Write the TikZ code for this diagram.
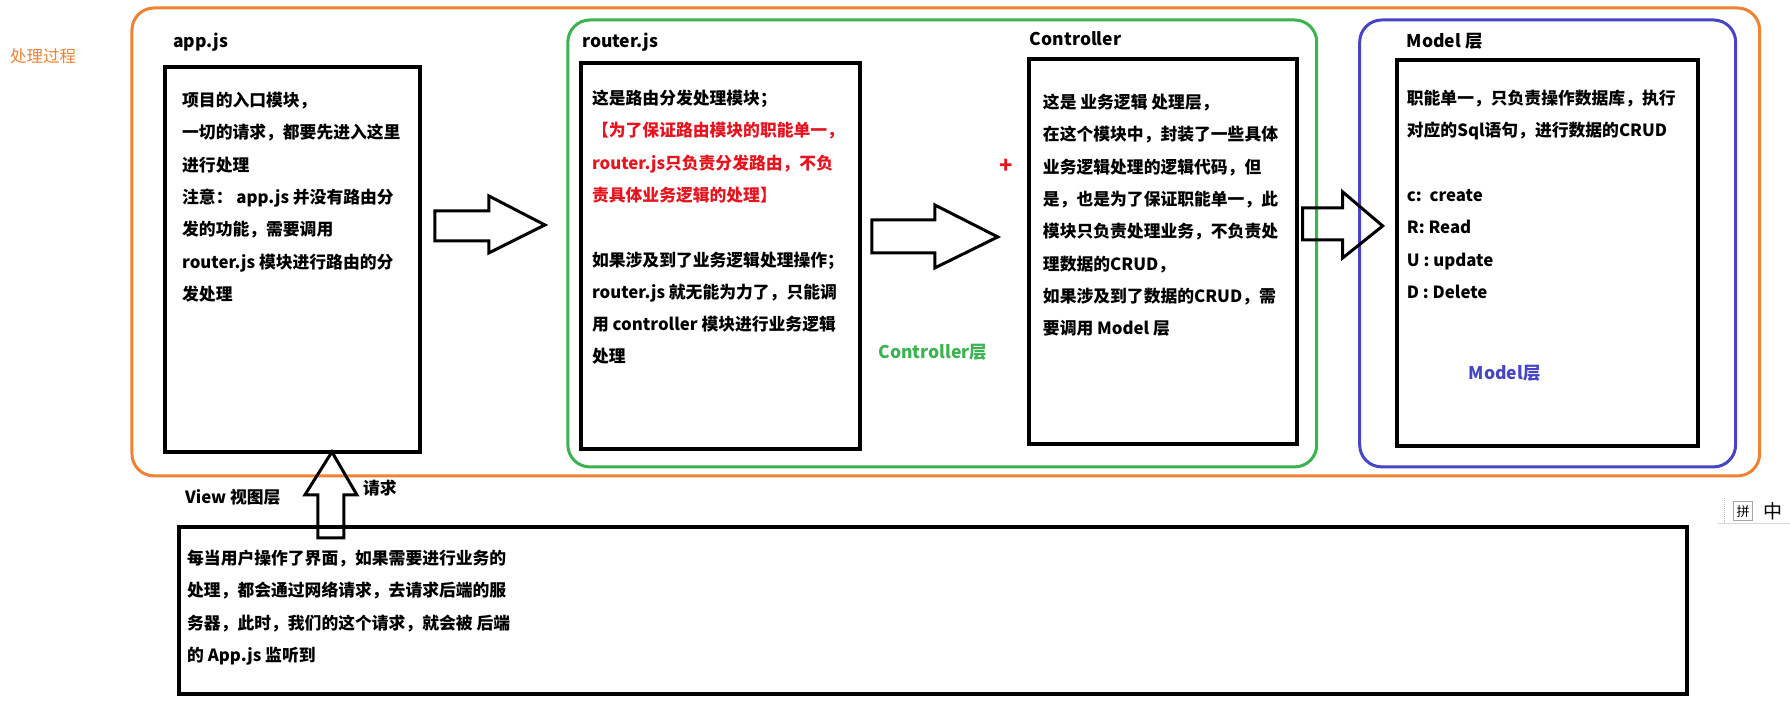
\documentclass[tikz,border=0pt]{standalone}
\usepackage{fontspec}
\setmainfont{Noto Sans CJK SC}
\usetikzlibrary{positioning}
\definecolor{procorange}{RGB}{240,130,50}
\definecolor{ctrlgreen}{RGB}{60,178,80}
\definecolor{modelblue}{RGB}{70,70,196}
\definecolor{notered}{RGB}{230,20,30}
\tikzset{
  layer/.style={draw, line width=3pt, rounded corners=22pt},
  module/.style={
    rectangle,
    draw=black, line width=4pt,
    inner sep=0pt,
    anchor=north west},
  title/.style={anchor=base west, inner sep=0pt,
    font=\fontsize{17.5}{20}\selectfont\bfseries},
  body/.style={anchor=north west, inner sep=0pt, align=left,
    font=\fontsize{16.8}{32.3}\selectfont\bfseries},
  tag/.style={anchor=base west, inner sep=0pt,
    font=\fontsize{17.5}{20}\selectfont\bfseries},
  fat/.style={draw=black, line width=3pt, line join=miter},
}

\begin{document}
\begin{tikzpicture}[x=1pt, y=-1pt]
  \path[fill=white] (0,0) rectangle (1790,711);
  %% the three layers
  \draw[layer, draw=procorange] (132,8) rectangle (1760,476);
  \draw[layer, draw=ctrlgreen] (568,20) rectangle (1317,467);
  \draw[layer, draw=modelblue] (1360,20) rectangle (1736,467);
  \node[tag, text=procorange, font=\fontsize{16.5}{18}\selectfont] (proc) at (10,63) {处理过程};
  \node[tag, text=ctrlgreen, anchor=base] (ctrltag) at (933,359) {Controller层};
  \node[tag, text=modelblue] (modeltag) at (1469,380) {Model层};

  %% app.js
  \node[title] (apptitle) at (173,48) {app.js};
  \node[module, minimum width=255pt, minimum height=385pt] (app) at (163,65) {};
  \node[body] (apptext) at (182,83.8) {\strut 项目的入口模块，\\
    \strut 一切的请求，都要先进入这里\\
    \strut 进行处理\\
    \strut 注意： app.js 并没有路由分\\
    \strut 发的功能，需要调用\\
    \strut router.js 模块进行路由的分\\
    \strut 发处理};

  %% router.js
  \node[title] (routertitle) at (582,48) {router.js};
  \node[module, minimum width=279pt, minimum height=386pt] (router) at (579,61) {};
  \node[body] (routertext) at (592,81.8) {\strut 这是路由分发处理模块；\\
    {\color{notered}\strut 【为了保证路由模块的职能单一，}\\
    {\color{notered}\strut router.js只负责分发路由，不负}\\
    {\color{notered}\strut 责具体业务逻辑的处理】}\\
    \strut\\
    \strut 如果涉及到了业务逻辑处理操作；\\
    \strut router.js 就无能为力了，只能调\\
    \strut 用 controller 模块进行业务逻辑\\
    \strut 处理};

  %% Controller
  \node[title] (ctrltitle) at (1030,46) {Controller};
  \node[module, minimum width=268pt, minimum height=385pt] (controller) at (1027,57) {};
  \node[body] (ctrltext) at (1043,85.8) {\strut 这是 业务逻辑 处理层，\\
    \strut 在这个模块中，封装了一些具体\\
    \strut 业务逻辑处理的逻辑代码，但\\
    \strut 是，也是为了保证职能单一，此\\
    \strut 模块只负责处理业务，不负责处\\
    \strut 理数据的CRUD，\\
    \strut 如果涉及到了数据的CRUD，需\\
    \strut 要调用 Model 层};
  \node[text=notered, inner sep=0pt, font=\fontsize{22}{24}\selectfont\bfseries] (plus) at (1006,166) {+};

  %% Model
  \node[title] (modeltitle) at (1407,48) {Model 层};
  \node[module, minimum width=301pt, minimum height=386pt] (model) at (1395,58) {};
  \node[body] (modeltext) at (1407,81.8) {\strut 职能单一，只负责操作数据库，执行\\
    \strut 对应的Sql语句，进行数据的CRUD\\
    \strut\\
    \strut c:\ \ create\\
    \strut R: Read\\
    \strut U : update\\
    \strut D : Delete};

  %% View
  \node[tag, font=\fontsize{16.8}{20}\selectfont\bfseries] (viewtitle) at (185,504) {View 视图层};
  \node[module, minimum width=1508pt, minimum height=167pt] (view) at (177,525) {};
  \node[body] (viewtext) at (187,541.8) {\strut 每当用户操作了界面，如果需要进行业务的\\
    \strut 处理，都会通过网络请求，去请求后端的服\\
    \strut 务器，此时，我们的这个请求，就会被 后端\\
    \strut 的 App.js 监听到};
  \node[tag, font=\fontsize{16.8}{20}\selectfont\bfseries] (req) at (363,495) {请求};

  %% fat arrows
  \draw[fat] (435,211) -- (489,211) -- (489,196) -- (545,225) -- (489,253) -- (489,241) -- (435,241) -- cycle;
  \draw[fat] (872,220) -- (935,220) -- (935,205) -- (998,237) -- (935,268) -- (935,253) -- (872,253) -- cycle;
  \draw[fat] (1303,208) -- (1343,208) -- (1343,192) -- (1383,226) -- (1343,258) -- (1343,240) -- (1303,240) -- cycle;
  \draw[fat] (332,452) -- (357,495) -- (344,495) -- (344,538) -- (318,538) -- (318,495) -- (305,495) -- cycle;

  %% input method marker
  \node[draw=gray!70, line width=0.8pt, minimum size=19pt, inner sep=0pt, font=\fontsize{13}{13}\selectfont] (ime) at (1743.5,511.5) {拼};
  \node[right=10pt of ime, inner sep=0pt, font=\fontsize{19}{19}\selectfont] (imezh) {中};
  \draw[gray!50, densely dotted, line width=1pt] (1725,498) -- (1725,523);
  \draw[gray!30, line width=0.8pt] (1718,524) -- (1790,524);
\end{tikzpicture}
\end{document}
